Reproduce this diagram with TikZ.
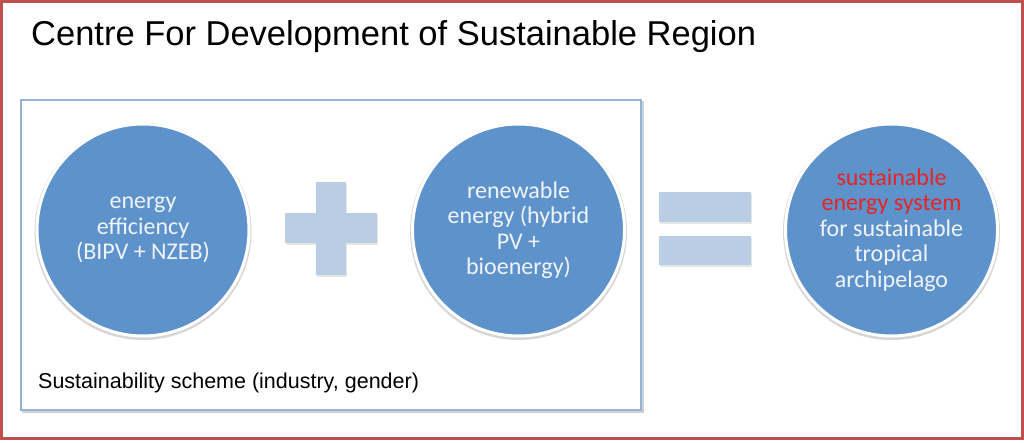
\documentclass[tikz,border=0pt]{standalone}
\usepackage{fontspec}
\setmainfont{Liberation Sans}
\newfontfamily\bubblefont{Carlito}
\definecolor{framered}{RGB}{192,80,77}
\definecolor{schemeline}{RGB}{149,179,215}
\definecolor{bubblefill}{RGB}{94,146,202}
\definecolor{signfill}{RGB}{185,205,229}
\definecolor{hotred}{RGB}{232,36,36}
\definecolor{softwhite}{RGB}{240,244,250}
\begin{document}
\begin{tikzpicture}[x=1pt,y=-1pt]
  \tikzset{
    bubble/.style={circle, draw=white, line width=3pt, fill=bubblefill, minimum size=212pt, inner sep=0pt,
      align=center, text=softwhite, font=\bubblefont\fontsize{24}{25.5}\selectfont},
    halo/.style={circle, fill=black!16, minimum size=217pt, inner sep=0pt},
    bar/.style={rectangle, fill=signfill, inner sep=0pt},
    barshade/.style={rectangle, fill=black!10, inner sep=0pt}
  }
  \useasboundingbox (0,0) rectangle (1024,442);
  \fill[white] (0,0) rectangle (1024,442);
  \node[draw=framered, line width=3pt, minimum width=1021pt, minimum height=437pt, inner sep=0pt] (frame) at (512,220) {};
  \node[anchor=base west, inner sep=0pt, font=\fontsize{34.5}{40}\selectfont] (title) at (31,45) {Centre For Development of Sustainable Region};

  \node[draw=black!18, line width=1.5pt, minimum width=620pt, minimum height=310pt, inner sep=0pt] (schemeshade) at (333,257) {};
  \node[draw=schemeline, fill=white, line width=1.5pt, minimum width=620pt, minimum height=310pt, inner sep=0pt] (scheme) at (331,255) {};
  \node[anchor=base west, inner sep=0pt, font=\fontsize{21.5}{26}\selectfont] (schemelabel) at (38,388) {Sustainability scheme (industry, gender)};

  \node[halo] (halo1) at (143,231.5) {};
  \node[halo] (halo2) at (518.5,231.5) {};
  \node[halo] (halo3) at (891.5,231.5) {};
  \node[bubble] (eff) at (143,230) {energy\\efficiency\\(BIPV + NZEB)};
  \node[bubble] (renew) at (518.5,230) {renewable\\energy (hybrid\\PV +\\bioenergy)};
  \node[bubble] (goal) at (891.5,230) {\textcolor{hotred}{sustainable}\\\textcolor{hotred}{energy system}\\for sustainable\\tropical\\archipelago};

  \node[barshade, minimum width=92pt, minimum height=30pt] (plushs) at (332,230) {};
  \node[barshade, minimum width=30pt, minimum height=93pt] (plusvs) at (332,230.5) {};
  \node[bar, minimum width=92pt, minimum height=30pt] (plush) at (331,228) {};
  \node[bar, minimum width=30pt, minimum height=93pt] (plusv) at (331,228.5) {};

  \node[barshade, minimum width=92pt, minimum height=30pt] (eqtops) at (706,209) {};
  \node[barshade, minimum width=92pt, minimum height=29pt] (eqbots) at (706,252.5) {};
  \node[bar, minimum width=92pt, minimum height=30pt] (eqtop) at (705,207) {};
  \node[bar, minimum width=92pt, minimum height=29pt] (eqbot) at (705,250.5) {};
\end{tikzpicture}
\end{document}
